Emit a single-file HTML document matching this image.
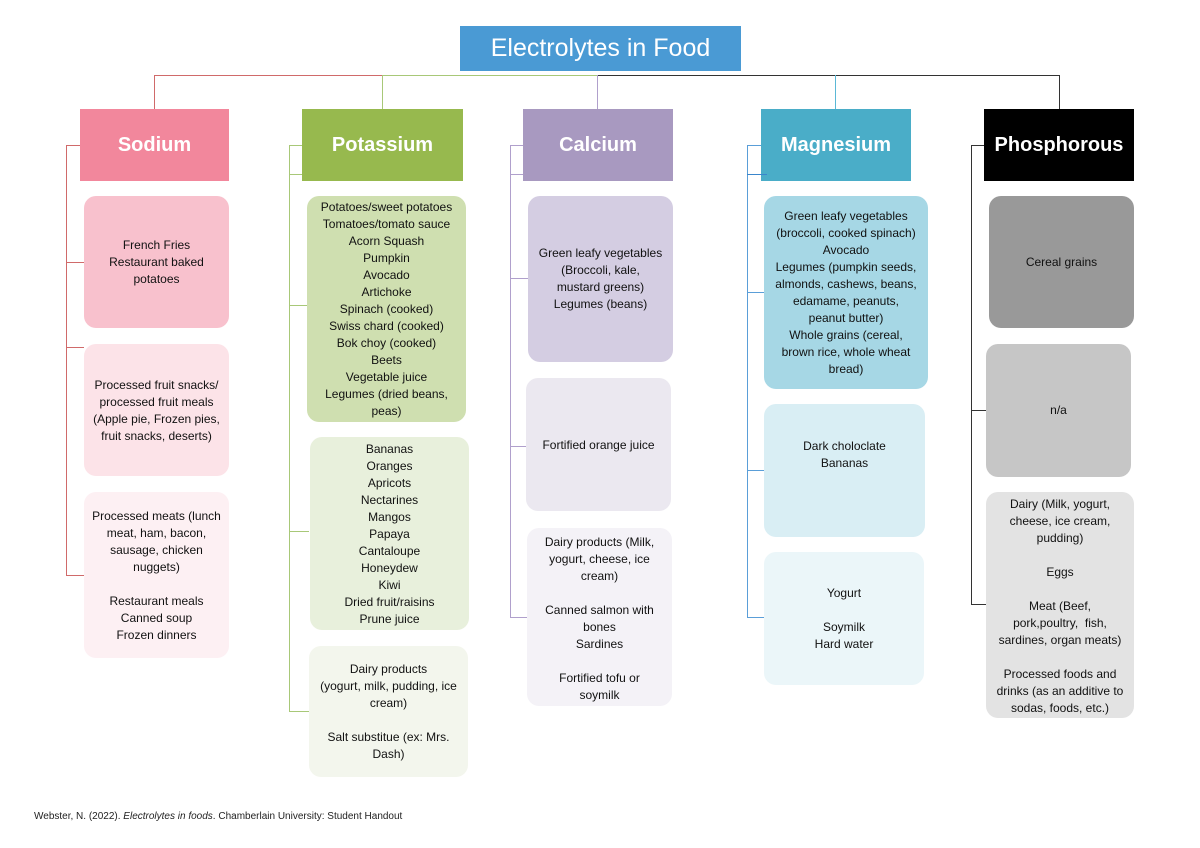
<!DOCTYPE html>
<html><head><meta charset="utf-8"><style>
body{margin:0;width:1200px;height:848px;background:#fff;position:relative;overflow:hidden;font-family:"Liberation Sans",sans-serif;}
.a{position:absolute;}
.h{position:absolute;color:#fff;font-weight:bold;font-size:20px;display:flex;align-items:center;justify-content:center;}
.b{position:absolute;border-radius:12px;text-align:center;font-size:12px;line-height:17px;color:#111;box-sizing:border-box;white-space:nowrap;}
.l{position:absolute;}
</style></head><body>
<div class="h" style="left:460px;top:26px;width:281px;height:45px;background:#4a9ad4;font-weight:normal;font-size:25px;">Electrolytes in Food</div>

<div class="l" style="left:154px;top:75px;width:229px;height:1px;background:#d06a6a"></div>
<div class="l" style="left:154px;top:75px;width:1px;height:34px;background:#d06a6a"></div>
<div class="l" style="left:383px;top:75px;width:215px;height:1px;background:#a8c878"></div>
<div class="l" style="left:382px;top:75px;width:1px;height:34px;background:#a8c878"></div>
<div class="l" style="left:597px;top:75px;width:1px;height:34px;background:#b0a0cc"></div>
<div class="l" style="left:598px;top:75px;width:462px;height:1px;background:#333"></div>
<div class="l" style="left:1059px;top:75px;width:1px;height:34px;background:#333"></div>
<div class="l" style="left:835px;top:75px;width:1px;height:34px;background:#5bb8d6"></div>

<div class="h" style="left:80px;top:109px;width:149px;height:72px;background:#f2879c">Sodium</div>
<div class="h" style="left:302px;top:109px;width:161px;height:72px;background:#97b94e">Potassium</div>
<div class="h" style="left:523px;top:109px;width:150px;height:72px;background:#a899c0">Calcium</div>
<div class="h" style="left:761px;top:109px;width:150px;height:72px;background:#4aadc8">Magnesium</div>
<div class="h" style="left:984px;top:109px;width:150px;height:72px;background:#000">Phosphorous</div>

<div class="l" style="left:66px;top:145px;width:1px;height:431px;background:#d06a6a"></div>
<div class="l" style="left:66px;top:145px;width:14px;height:1px;background:#d06a6a"></div>
<div class="l" style="left:66px;top:262px;width:18px;height:1px;background:#d06a6a"></div>
<div class="l" style="left:66px;top:347px;width:18px;height:1px;background:#d06a6a"></div>
<div class="l" style="left:66px;top:575px;width:18px;height:1px;background:#d06a6a"></div>

<div class="l" style="left:289px;top:145px;width:1px;height:567px;background:#a8c878"></div>
<div class="l" style="left:289px;top:145px;width:13px;height:1px;background:#a8c878"></div>
<div class="l" style="left:289px;top:174px;width:13px;height:1px;background:#a8c878"></div>
<div class="l" style="left:289px;top:305px;width:18px;height:1px;background:#a8c878"></div>
<div class="l" style="left:289px;top:531px;width:20px;height:1px;background:#a8c878"></div>
<div class="l" style="left:289px;top:711px;width:20px;height:1px;background:#a8c878"></div>

<div class="l" style="left:510px;top:145px;width:1px;height:473px;background:#b0a0cc"></div>
<div class="l" style="left:510px;top:145px;width:13px;height:1px;background:#b0a0cc"></div>
<div class="l" style="left:510px;top:174px;width:13px;height:1px;background:#b0a0cc"></div>
<div class="l" style="left:510px;top:278px;width:18px;height:1px;background:#b0a0cc"></div>
<div class="l" style="left:510px;top:446px;width:16px;height:1px;background:#b0a0cc"></div>
<div class="l" style="left:510px;top:617px;width:17px;height:1px;background:#b0a0cc"></div>

<div class="l" style="left:747px;top:145px;width:1px;height:473px;background:#5a9ed8"></div>
<div class="l" style="left:747px;top:145px;width:14px;height:1px;background:#5a9ed8"></div>
<div class="l" style="left:747px;top:174px;width:20px;height:1px;background:#3a86cc"></div>
<div class="l" style="left:747px;top:292px;width:17px;height:1px;background:#5a9ed8"></div>
<div class="l" style="left:747px;top:470px;width:17px;height:1px;background:#5a9ed8"></div>
<div class="l" style="left:747px;top:617px;width:17px;height:1px;background:#5a9ed8"></div>

<div class="l" style="left:971px;top:145px;width:1px;height:460px;background:#333"></div>
<div class="l" style="left:971px;top:145px;width:13px;height:1px;background:#333"></div>
<div class="l" style="left:971px;top:410px;width:15px;height:1px;background:#333"></div>
<div class="l" style="left:971px;top:604px;width:15px;height:1px;background:#333"></div>

<div class="b" style="left:84px;top:196px;width:145px;height:132px;background:#f8c1cd;padding-top:41px">French Fries<br>Restaurant baked<br>potatoes</div>
<div class="b" style="left:84px;top:344px;width:145px;height:132px;background:#fce3e8;padding-top:33px">Processed fruit snacks/<br>processed fruit meals<br>(Apple pie, Frozen pies,<br>fruit snacks, deserts)</div>
<div class="b" style="left:84px;top:492px;width:145px;height:166px;background:#fdf0f3;padding-top:16px">Processed meats (lunch<br>meat, ham, bacon,<br>sausage, chicken<br>nuggets)<br><br>Restaurant meals<br>Canned soup<br>Frozen dinners</div>

<div class="b" style="left:307px;top:196px;width:159px;height:226px;background:#cfdfb0;padding-top:3px">Potatoes/sweet potatoes<br>Tomatoes/tomato sauce<br>Acorn Squash<br>Pumpkin<br>Avocado<br>Artichoke<br>Spinach (cooked)<br>Swiss chard (cooked)<br>Bok choy (cooked)<br>Beets<br>Vegetable juice<br>Legumes (dried beans,<br>peas)</div>
<div class="b" style="left:310px;top:437px;width:159px;height:193px;background:#e8f0dc;padding-top:4px">Bananas<br>Oranges<br>Apricots<br>Nectarines<br>Mangos<br>Papaya<br>Cantaloupe<br>Honeydew<br>Kiwi<br>Dried fruit/raisins<br>Prune juice</div>
<div class="b" style="left:309px;top:646px;width:159px;height:131px;background:#f3f6ed;padding-top:15px">Dairy products<br>(yogurt, milk, pudding, ice<br>cream)<br><br>Salt substitue (ex: Mrs.<br>Dash)</div>

<div class="b" style="left:528px;top:196px;width:145px;height:166px;background:#d4cde2;padding-top:49px">Green leafy vegetables<br>(Broccoli, kale,<br>mustard greens)<br>Legumes (beans)</div>
<div class="b" style="left:526px;top:378px;width:145px;height:133px;background:#ebe8f0;padding-top:59px">Fortified orange juice</div>
<div class="b" style="left:527px;top:528px;width:145px;height:178px;background:#f4f2f7;padding-top:6px">Dairy products (Milk,<br>yogurt, cheese, ice<br>cream)<br><br>Canned salmon with<br>bones<br>Sardines<br><br>Fortified tofu or<br>soymilk</div>

<div class="b" style="left:764px;top:196px;width:164px;height:193px;background:#a6d7e5;padding-top:12px">Green leafy vegetables<br>(broccoli, cooked spinach)<br>Avocado<br>Legumes (pumpkin seeds,<br>almonds, cashews, beans,<br>edamame, peanuts,<br>peanut butter)<br>Whole grains (cereal,<br>brown rice, whole wheat<br>bread)</div>
<div class="b" style="left:764px;top:404px;width:161px;height:133px;background:#d9eef4;padding-top:34px">Dark choloclate<br>Bananas</div>
<div class="b" style="left:764px;top:552px;width:160px;height:133px;background:#ebf6f9;padding-top:33px">Yogurt<br><br>Soymilk<br>Hard water</div>

<div class="b" style="left:989px;top:196px;width:145px;height:132px;background:#999;padding-top:58px">Cereal grains</div>
<div class="b" style="left:986px;top:344px;width:145px;height:133px;background:#c6c6c6;padding-top:58px">n/a</div>
<div class="b" style="left:986px;top:492px;width:148px;height:226px;background:#e3e3e3;padding-top:4px">Dairy (Milk, yogurt,<br>cheese, ice cream,<br>pudding)<br><br>Eggs<br><br>Meat (Beef,<br>pork,poultry,&nbsp; fish,<br>sardines, organ meats)<br><br>Processed foods and<br>drinks (as an additive to<br>sodas, foods, etc.)</div>

<div class="a" style="left:34px;top:811px;font-size:10px;color:#222;white-space:nowrap">Webster, N. (2022). <i>Electrolytes in foods</i>. Chamberlain University: Student Handout</div>
</body></html>
